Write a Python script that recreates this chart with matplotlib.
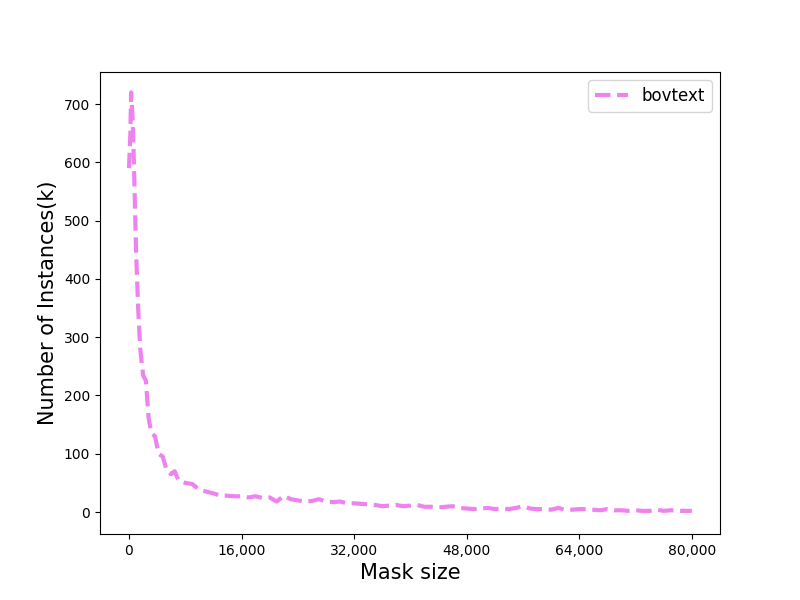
import matplotlib
matplotlib.use("Agg")
import matplotlib.pyplot as plt
from matplotlib.ticker import FuncFormatter

mask_size = [0,200,300,500,700,1000,1300,1600,2000,2400,2800,3200,3700,4200,4800,5400,6000,6500,7000,8000,9000,
             10000,11000,12000,13000,14000,15000,16000,17000,18000,19000,20000,21000,22000,23000,24000,25000,26000,
             27000,28000,29000,30000,31000,32000,33000,34000,35000,36000,37000,38000,39000,40000,41000,42000,43000,
             44000,45000,46000,47000,48000,49000,50000,51000,52000,53000,54000,55000,56000,57000,58000,59000,60000,
             61000,62000,63000,64000,65000,66000,67000,68000,69000,70000,71000,72000,73000,74000,75000,76000,77000,
             78000,79000,80000]
instances = [590,650,720,680,600,450,350,280,235,225,160,135,130,100,95,70,65,70,55,50,48,
             38,35,32,28,28,27,27,25,27,24,25,18,28,22,20,18,19,
             22,18,17,18,15,15,14,13,12,10,11,12,10,11,12,9,9,
             8,9,10,7,6,5,6,7,5,6,5,7,10,6,5,5,4,
             7,4,4,5,5,4,3,5,3,3,2,3,2,2,4,2,3,
             2,2,2]

fig, ax = plt.subplots(figsize=(8, 6), dpi=100)
ax.plot(mask_size, instances, linestyle="--", color="violet", linewidth=3, label="bovtext")
ax.set_xticks([0, 16000, 32000, 48000, 64000, 80000])
ax.xaxis.set_major_formatter(FuncFormatter(lambda v, p: f"{int(v):,}"))
ax.set_xlim(-4120, 84000)
ax.set_ylim(-37.7, 755)
ax.set_xlabel("Mask size", fontsize=15)
ax.set_ylabel("Number of Instances(k)", fontsize=15)
ax.legend(fontsize=12, loc="upper right")
fig.savefig("out.png")
